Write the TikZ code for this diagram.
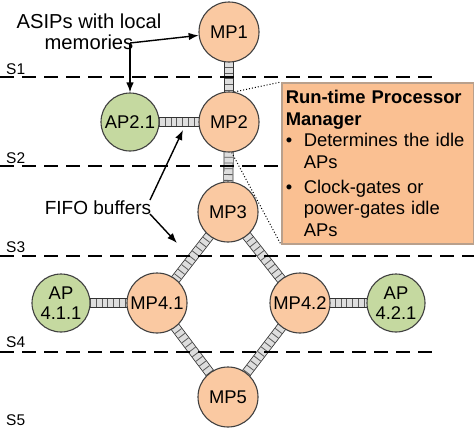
\documentclass[tikz,border=0pt]{standalone}
\usepackage{fontspec}
\setmainfont{Liberation Sans}
\usepackage{tikz}
\usetikzlibrary{arrows.meta,backgrounds}
\definecolor{mporange}{RGB}{250,201,162}
\definecolor{apgreen}{RGB}{197,217,160}
\definecolor{boxorange}{RGB}{250,192,146}
\definecolor{boxedge}{RGB}{185,160,140}
\definecolor{fifogray}{RGB}{222,222,222}

\begin{document}
\begin{tikzpicture}
[x=1pt,y=-1pt,
 font=\fontsize{18.4}{21.5}\selectfont,
 mp/.style={circle,draw=black!75,line width=1.1pt,fill=mporange,minimum size=60pt,inner sep=0pt},
 ap/.style={circle,draw=black!75,line width=1.1pt,fill=apgreen,minimum size=58pt,inner sep=0pt,align=center},
 fifo/.style={line width=10pt,draw=black!80,
   postaction={draw=fifogray,line width=8.4pt},
   postaction={draw=black!65,line width=8.4pt,dash pattern=on 0.8pt off 5pt}},
 stage/.style={anchor=west,inner sep=1pt,font=\fontsize{15.5}{17}\selectfont},
 stageline/.style={dash pattern=on 14pt off 8pt,line width=1.2pt},
 blackarrow/.style={-{Latex[length=10pt,width=7.5pt]},line width=1.4pt},
 note/.style={font=\fontsize{20.2}{22.5}\selectfont,align=center},
 managerbox/.style={draw=boxedge,line width=1.6pt,fill=boxorange,anchor=north west,
   text width=184pt,minimum width=192pt,minimum height=161pt,inner xsep=4pt,inner ysep=3pt,align=left}]
\useasboundingbox (0,0) rectangle (474,429);

% stages
\draw[stageline] (0,77) -- (435,77);
\draw[stageline] (0,166) -- (435,166);
\draw[stageline] (0,256) -- (474,256);
\draw[stageline] (0,352) -- (435,352);
\node[stage] (sone) at (5,69) {S1};
\node[stage] (stwo) at (5,158) {S2};
\node[stage] (sthree) at (5,247) {S3};
\node[stage] (sfour) at (5,342) {S4};
\node[stage] (sfive) at (5,420) {S5};

% processors
\node[mp] (mpone) at (229,32) {MP1};
\node[mp] (mptwo) at (229,122) {MP2};
\node[ap] (aptwo) at (130,122) {AP2.1};
\node[mp] (mpthree) at (228,212) {MP3};
\node[mp] (mpfourone) at (157,303) {MP4.1};
\node[mp] (mpfourtwo) at (300,303) {MP4.2};
\node[ap] (apfourone) at (61,303) {AP\\[-2pt]4.1.1};
\node[ap] (apfourtwo) at (396,303) {AP\\[-2pt]4.2.1};
\node[mp] (mpfive) at (228,397) {MP5};

% manager
\node[managerbox] (manager) at (281,82) {\hyphenpenalty=10000
  \textbf{Run-time Processor\newline Manager}\par
  \hangindent=18pt\hangafter=1\makebox[18pt][l]{\textbullet}Determines the idle\newline APs\par\vspace{3.5pt}
  \hangindent=18pt\hangafter=1\makebox[18pt][l]{\textbullet}Clock-gates or\newline power-gates idle\newline APs\par};

% fifo buffers
\begin{scope}[on background layer]
\draw[fifo] (mpone.center) -- (mptwo.center);
\draw[fifo] (aptwo.center) -- (mptwo.center);
\draw[fifo] (mptwo.center) -- (mpthree.center);
\draw[fifo] (mpthree.center) -- (mpfourone.center);
\draw[fifo] (mpthree.center) -- (mpfourtwo.center);
\draw[fifo] (apfourone.center) -- (mpfourone.center);
\draw[fifo] (mpfourtwo.center) -- (apfourtwo.center);
\draw[fifo] (mpfourone.center) -- (mpfive.center);
\draw[fifo] (mpfourtwo.center) -- (mpfive.center);
\draw[dotted,line width=1pt] (mptwo.80) -- (manager.north west);
\draw[dotted,line width=1pt] (mptwo.-85) -- (manager.south west);
\end{scope}

% labels
\node[note] (asips) at (89,32) {ASIPs with local\\[-1pt]memories};
\coordinate (asipsend) at (130,43);
\draw[blackarrow] (asipsend) -- (mpone);
\draw[blackarrow] (asipsend) -- (aptwo);

\node[note,font=\fontsize{19}{22}\selectfont] (fifolabel) at (98,208) {FIFO buffers};
\coordinate (fifoup) at (150,200);
\coordinate (fifodown) at (150,214);
\coordinate (fifoa) at (183,130);
\coordinate (fifob) at (177,243);
\draw[blackarrow] (fifoup) -- (fifoa);
\draw[blackarrow] (fifodown) -- (fifob);

\end{tikzpicture}
\end{document}
